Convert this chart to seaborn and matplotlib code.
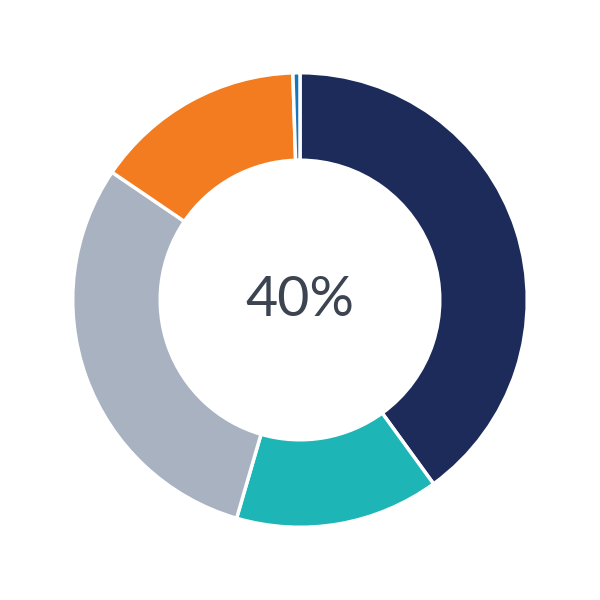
import matplotlib
matplotlib.use("Agg")
import matplotlib.pyplot as plt
import seaborn as sns

labels = ["Navy", "Teal", "Gray", "Orange", "Blue"]
values = [40.0, 14.5, 30.0, 15.0, 0.5]
colors = ["#1c2b5a", "#1db5b5", "#a8b2c1", "#f47c20", "#1a75bb"]
center_label = "40%"

sns.set_theme(style="white")
plt.rcParams["font.family"] = ["Lato", "DejaVu Sans"]

fig, ax = plt.subplots(figsize=(6, 6), dpi=100)
ax.pie(
    values,
    colors=colors,
    startangle=90,
    counterclock=False,
    radius=1.0,
    wedgeprops=dict(width=0.385, edgecolor="white", linewidth=2.5),
)
ax.text(0, 0, center_label, ha="center", va="center", fontsize=40,
        color="#3d4451", fontweight="normal")
ax.set_aspect("equal")
ax.set_xlim(-1.32, 1.32)
ax.set_ylim(-1.32, 1.32)
ax.axis("off")
fig.subplots_adjust(left=0, right=1, top=1, bottom=0)
plt.savefig("out.png", dpi=100)
